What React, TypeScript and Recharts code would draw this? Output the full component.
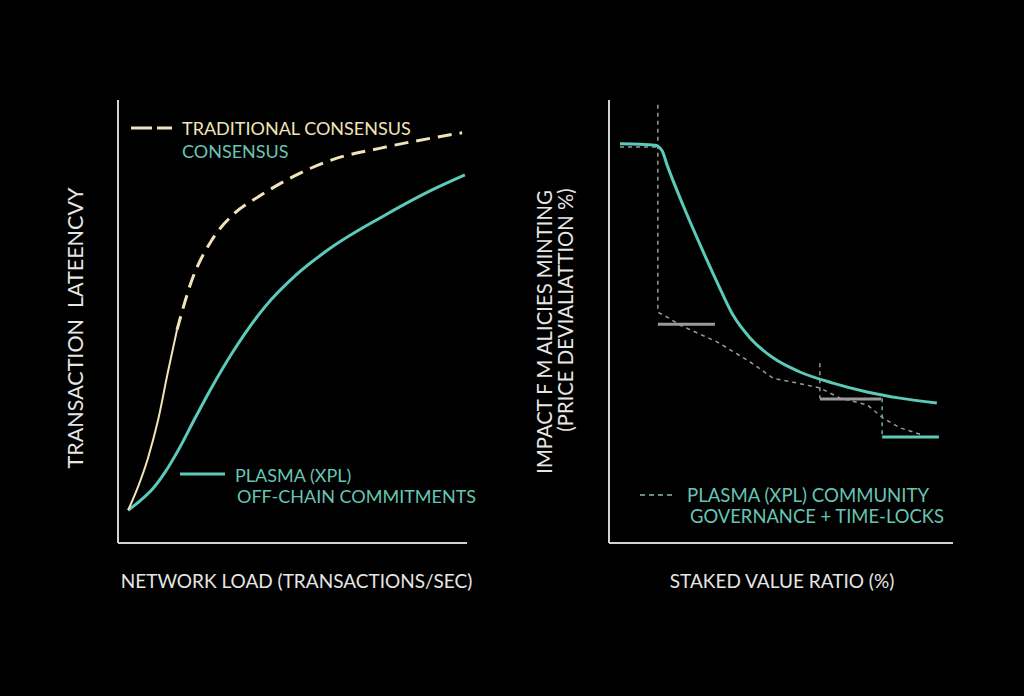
import React from 'react';
import { LineChart, Line, XAxis, YAxis, Label, Legend } from 'recharts';

const TEAL = '#5ccab9';
const TEAL_TEXT = '#67c5b5';
const CREAM = '#f1e4b8';
const AXIS = '#d2d2d2';
const LABEL = '#e6e6e6';
const GRAY = '#9a9a9a';
const FONT = 'Lato, "Open Sans", sans-serif';

// ---------- Left chart: latency vs network load ----------
const tradSolidLoad = [2.9, 5.7, 8.6, 11.5, 14.3, 16.9];
const tradSolidLatency = [7.4, 12.6, 19.2, 27.8, 38.6, 48.1];
const tradDashedLoad = [16.9, 21.2, 26.9, 33.5, 40.1, 49.9, 61.3, 75.6, 98.6];
const tradDashedLatency = [48.1, 59.4, 68.4, 74.5, 78.1, 82.6, 86.5, 89.2, 92.6];
const plasmaLoad = [2.9, 6.3, 9.7, 13.5, 17.8, 22.1, 26.4, 32.7, 42.1, 51.6, 61.3, 75.6, 90.0, 99.4];
const plasmaLatency = [7.4, 9.5, 12.0, 16.0, 21.7, 28.2, 34.5, 42.9, 53.3, 60.9, 66.8, 73.6, 79.7, 83.1];

// ---------- Right chart: impact vs staked value ratio ----------
const impactRatio = [3.2, 13.4, 15.4, 16.9, 21.5, 26.5, 31.4, 36.0, 41.0, 47.7, 55.5, 65.1, 75.0, 84.6, 95.3];
const impactValue = [90.1, 89.8, 88.6, 85.3, 76.3, 67.3, 58.9, 51.5, 46.3, 41.8, 38.6, 36.1, 34.1, 32.7, 31.6];
const floorRatio = [79.4, 95.9];
const floorValue = [23.9, 23.9];
const govPlateauRatio = [3.2, 14.2];
const govPlateauValue = [89.4, 89.4];
const govRatio = [14.2, 14.2, 16.9, 20.6, 31.4, 41.0, 47.7, 53.5, 61.3, 67.2, 75.0, 79.7, 84.6, 91.0];
const govValue = [98.9, 52.1, 51.0, 49.2, 45.4, 40.9, 37.2, 36.3, 35.0, 32.7, 31.2, 28.2, 26.0, 24.4];
const lockA_Ratio = [61.3, 61.3];
const lockA_Value = [40.6, 32.7];
const lockB_Ratio = [79.4, 79.4];
const lockB_Value = [32.7, 24.4];
const stepA_Ratio = [14.2, 30.8];
const stepA_Value = [49.4, 49.4];
const stepB_Ratio = [61.3, 79.1];
const stepB_Value = [32.5, 32.5];

const pts = (xs: number[], ys: number[]) => xs.map((x, i) => ({ x, y: ys[i] }));

const legendWrap = (w: number, h: number) => ({
  position: 'absolute' as const,
  left: 0,
  top: 0,
  width: w,
  height: h,
  pointerEvents: 'none' as const,
});

const LeftLegend = () => (
  <svg width={512} height={696} style={{ position: 'absolute', left: 0, top: 0 }}>
    <line x1={131} y1={128} x2={172} y2={128} stroke={CREAM} strokeWidth={3} strokeDasharray="21 5" />
    <text x={182} y={135} fill={CREAM} fontSize={18} fontFamily={FONT}>TRADITIONAL CONSENSUS</text>
    <text x={182} y={158} fill={TEAL_TEXT} fontSize={18} fontFamily={FONT}>CONSENSUS</text>
    <line x1={180} y1={474} x2={225} y2={474} stroke={TEAL} strokeWidth={3} />
    <text x={235} y={482} fill={TEAL_TEXT} fontSize={18} fontFamily={FONT}>PLASMA (XPL)</text>
    <text x={237} y={503} fill={TEAL_TEXT} fontSize={18} fontFamily={FONT}>OFF-CHAIN COMMITMENTS</text>
  </svg>
);

const RightLegend = () => (
  <svg width={512} height={696} style={{ position: 'absolute', left: 0, top: 0 }}>
    <line x1={128} y1={495} x2={161} y2={495} stroke="#7fbfb4" strokeWidth={1.5} strokeDasharray="5 4" />
    <text x={175} y={502} fill={TEAL_TEXT} fontSize={18.6} fontFamily={FONT}>PLASMA (XPL) COMMUNITY</text>
    <text x={178} y={523} fill={TEAL_TEXT} fontSize={18.4} fontFamily={FONT}>GOVERNANCE + TIME-LOCKS</text>
  </svg>
);

const axisLine = { stroke: AXIS, strokeWidth: 2 };

export default function App() {
  return (
    <div
      style={{
        position: 'absolute',
        left: 0,
        top: 0,
        width: 1024,
        height: 696,
        background: '#000',
        fontFamily: FONT,
        overflow: 'hidden',
      }}
    >
      <div style={{ position: 'absolute', left: 0, top: 0 }}>
        <LineChart width={512} height={696} margin={{ top: 100, right: 45, bottom: 152, left: 117 }}>
          <XAxis
            type="number"
            dataKey="x"
            domain={[0, 100]}
            allowDataOverflow
            tick={false}
            tickLine={false}
            height={1}
            axisLine={axisLine}
          >
            <Label value="NETWORK LOAD (TRANSACTIONS/SEC)" position="bottom" offset={31} dx={4} fill={LABEL} fontSize={19} fontFamily={FONT} />
          </XAxis>
          <YAxis
            type="number"
            dataKey="y"
            domain={[0, 100]}
            allowDataOverflow
            tick={false}
            tickLine={false}
            width={1}
            axisLine={axisLine}
          >
            <Label value={'TRANSACTION \u00A0LATEENCVY'} position="center" angle={-90} dx={-42.5} dy={6.5} fill={LABEL} fontSize={21.5} fontFamily={FONT} />
          </YAxis>
          <Line data={pts(plasmaLoad, plasmaLatency)} dataKey="y" type="monotone" stroke={TEAL} strokeWidth={3} dot={false} isAnimationActive={false} />
          <Line data={pts(tradSolidLoad, tradSolidLatency)} dataKey="y" type="monotone" stroke={CREAM} strokeWidth={2} dot={false} isAnimationActive={false} />
          <Line data={pts(tradDashedLoad, tradDashedLatency)} dataKey="y" type="monotone" stroke={CREAM} strokeWidth={3} strokeDasharray="14 8" dot={false} isAnimationActive={false} />
          <Legend verticalAlign="middle" align="center" layout="horizontal" wrapperStyle={legendWrap(512, 696)} content={() => <LeftLegend />} />
        </LineChart>
      </div>

      <div style={{ position: 'absolute', left: 512, top: 0 }}>
        <LineChart width={512} height={696} margin={{ top: 100, right: 71, bottom: 152, left: 96 }}>
          <XAxis
            type="number"
            dataKey="x"
            domain={[0, 100]}
            allowDataOverflow
            tick={false}
            tickLine={false}
            height={1}
            axisLine={axisLine}
          >
            <Label value="STAKED VALUE RATIO (%)" position="bottom" offset={31} dx={1} fill={LABEL} fontSize={19} fontFamily={FONT} />
          </XAxis>
          <YAxis
            type="number"
            dataKey="y"
            domain={[0, 100]}
            allowDataOverflow
            tick={false}
            tickLine={false}
            width={1}
            axisLine={axisLine}
          >
            <Label value="IMPACT F M ALICIES MINTING" position="center" angle={-90} dx={-64} dy={10.5} fill={LABEL} fontSize={20.3} fontFamily={FONT} />
            <Label value="(PRICE DEVIALIATTION %)" position="center" angle={-90} dx={-43} dy={-11.5} fill={LABEL} fontSize={20.3} fontFamily={FONT} />
          </YAxis>
          <Line data={pts(govPlateauRatio, govPlateauValue)} dataKey="y" type="linear" stroke={GRAY} strokeWidth={1.5} strokeDasharray="4 4" dot={false} isAnimationActive={false} />
          <Line data={pts(govRatio, govValue)} dataKey="y" type="linear" stroke={GRAY} strokeWidth={1.5} strokeDasharray="4 4" dot={false} isAnimationActive={false} />
          <Line data={pts(lockA_Ratio, lockA_Value)} dataKey="y" type="linear" stroke={GRAY} strokeWidth={1.5} strokeDasharray="4 4" dot={false} isAnimationActive={false} />
          <Line data={pts(lockB_Ratio, lockB_Value)} dataKey="y" type="linear" stroke="#6fa9a0" strokeWidth={1.5} strokeDasharray="4 4" dot={false} isAnimationActive={false} />
          <Line data={pts(stepA_Ratio, stepA_Value)} dataKey="y" type="linear" stroke={GRAY} strokeWidth={3} dot={false} isAnimationActive={false} />
          <Line data={pts(stepB_Ratio, stepB_Value)} dataKey="y" type="linear" stroke={GRAY} strokeWidth={3} dot={false} isAnimationActive={false} />
          <Line data={pts(impactRatio, impactValue)} dataKey="y" type="monotone" stroke={TEAL} strokeWidth={3} dot={false} isAnimationActive={false} />
          <Line data={pts(floorRatio, floorValue)} dataKey="y" type="linear" stroke={TEAL} strokeWidth={3} dot={false} isAnimationActive={false} />
          <Legend verticalAlign="middle" align="center" layout="horizontal" wrapperStyle={legendWrap(512, 696)} content={() => <RightLegend />} />
        </LineChart>
      </div>
    </div>
  );
}
